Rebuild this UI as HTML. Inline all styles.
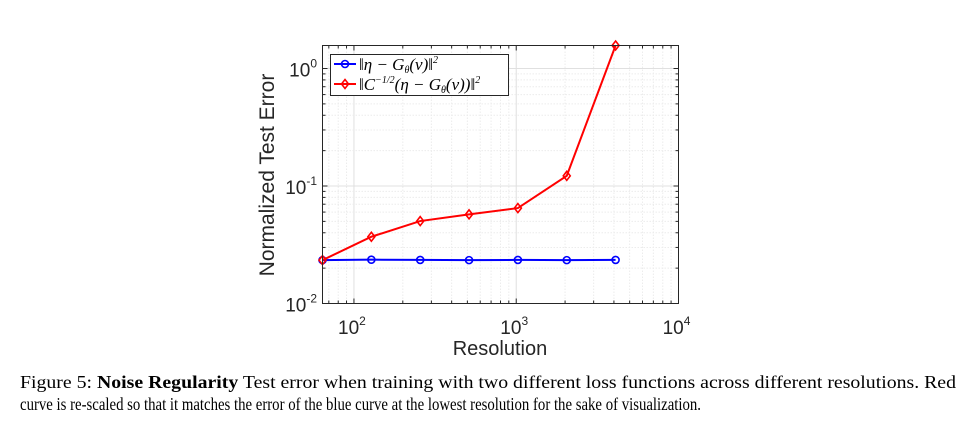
<!DOCTYPE html>
<html><head><meta charset="utf-8"><style>
html,body{margin:0;padding:0;background:#fff;width:976px;height:436px;overflow:hidden}
svg{display:block}
</style></head><body>
<svg id="chart" width="976" height="436" viewBox="0 0 976 436" xmlns="http://www.w3.org/2000/svg" font-family="'Liberation Sans', sans-serif">
<g id="grid"></g>
<g id="ticks"></g>
<g id="series"></g>
<rect x="322.5" y="45.5" width="356" height="258" fill="none" stroke="#262626" stroke-width="1"/>
<g>
<rect x="330.5" y="54.5" width="178" height="41" fill="#fff" stroke="#262626" stroke-width="1"/>
<g>
<line x1="334" y1="64" x2="356" y2="64" stroke="#0000ff" stroke-width="2"/>
<circle cx="345" cy="64" r="3.5" fill="none" stroke="#0000ff" stroke-width="1.6"/>
<text x="359" y="70" font-family="'Liberation Serif', serif" font-style="italic" font-size="17">‖η − G<tspan font-size="10" dy="3">θ</tspan><tspan dy="-3">(v)‖</tspan><tspan font-size="10" dy="-7">2</tspan></text>
</g>
<g>
<line x1="334" y1="84" x2="356" y2="84" stroke="#ff0000" stroke-width="2"/>
<path d="M345 79.5 L348.5 84 L345 88.5 L341.5 84 Z" fill="none" stroke="#ff0000" stroke-width="1.6"/>
<text x="359" y="90" font-family="'Liberation Serif', serif" font-style="italic" font-size="17">‖C<tspan font-size="10" dy="-7">−1/2</tspan><tspan dy="7">(η − G</tspan><tspan font-size="10" dy="3">θ</tspan><tspan dy="-3">(v))‖</tspan><tspan font-size="10" dy="-7">2</tspan></text>
</g>
</g>
<text x="500" y="355" text-anchor="middle" font-size="20" fill="#262626">Resolution</text>
<text transform="translate(274,175) rotate(-90)" text-anchor="middle" font-size="21" fill="#262626">Normalized Test Error</text>
<text x="20" y="388" font-family="'Liberation Serif', serif" font-size="18" textLength="936" lengthAdjust="spacingAndGlyphs">Figure 5: <tspan font-weight="bold">Noise Regularity</tspan>  Test error when training with two different loss functions across different resolutions. Red</text>
<text x="20" y="410" font-family="'Liberation Serif', serif" font-size="18" textLength="681" lengthAdjust="spacingAndGlyphs">curve is re-scaled so that it matches the error of the blue curve at the lowest resolution for the sake of visualization.</text>
<script>
const resolutions = [64, 128, 256, 512, 1024, 2048, 4096];
const blueErrors = [0.0234, 0.0236, 0.0235, 0.0234, 0.0235, 0.0234, 0.0235];
const redErrors = [0.0234, 0.037, 0.0503, 0.0574, 0.0649, 0.122, 1.57];
const xTickValues = [100, 1000, 10000];
const xTickExps = ["2", "3", "4"];
const yTickValues = [0.01, 0.1, 1];
const yTickExps = ["-2", "-1", "0"];
const NS = "http://www.w3.org/2000/svg";
const L = 322.5, R = 678.5, T = 45.5, B = 303.5;
const xMin = Math.log10(64), xMax = 4, yMin = -2, yMax = Math.log10(1.57);
function xs(v){ return L + (Math.log10(v) - xMin) / (xMax - xMin) * (R - L); }
function ys(v){ return B - (Math.log10(v) - yMin) / (yMax - yMin) * (B - T); }
function mk(tag, attrs, parent){ const e = document.createElementNS(NS, tag); for (const k in attrs) e.setAttribute(k, attrs[k]); parent.appendChild(e); return e; }
const grid = document.getElementById('grid'), ticks = document.getElementById('ticks'), series = document.getElementById('series');
for (let d = 1; d <= 3; d++) for (let m = 1; m <= 9; m++) {
  const v = m * Math.pow(10, d);
  if (v < 64 || v > 10000) continue;
  const x = xs(v);
  const g = mk('line', {x1:x, x2:x, y1:T, y2:B, stroke: m===1?'#e0e0e0':'#ececec', 'stroke-width':1, 'stroke-dasharray': m===1?'':'1.5,1.5'}, grid);
  
  
  mk('line', {x1:x, x2:x, y1:B, y2:B-(m===1?5:3), stroke:'#262626'}, ticks);
  mk('line', {x1:x, x2:x, y1:T, y2:T+(m===1?5:3), stroke:'#262626'}, ticks);
}
for (let d = -2; d <= 0; d++) for (let m = 1; m <= 9; m++) {
  const v = m * Math.pow(10, d);
  if (v > 1.57) continue;
  const y = ys(v);
  const g = mk('line', {x1:L, x2:R, y1:y, y2:y, stroke: m===1?'#e0e0e0':'#ececec', 'stroke-width':1, 'stroke-dasharray': m===1?'':'1.5,1.5'}, grid);
  
  
  mk('line', {x1:L, x2:L+(m===1?5:3), y1:y, y2:y, stroke:'#262626'}, ticks);
  mk('line', {x1:R, x2:R-(m===1?5:3), y1:y, y2:y, stroke:'#262626'}, ticks);
}
function tickLabel(x, y, anchor, exp, name){
  const t = mk('text', {x: x, y: y, 'text-anchor':anchor, 'font-size':19, fill:'#262626'}, ticks);
  
  
  const a = document.createElementNS(NS, 'tspan'); a.textContent = '10'; t.appendChild(a);
  const b = document.createElementNS(NS, 'tspan'); b.setAttribute('font-size', '12'); b.setAttribute('dy', '-9'); b.textContent = exp; t.appendChild(b);
}
xTickValues.forEach((v, i) => tickLabel(xs(v) - 2, 334, 'middle', xTickExps[i], 'x-tick-label'));
yTickValues.forEach((v, i) => tickLabel(317, ys(v) + 8, 'end', yTickExps[i], 'y-tick-label'));
function drawSeries(vals, color, marker, name){
  const pts = resolutions.map((r, i) => xs(r) + ',' + ys(vals[i])).join(' ');
  const pl = mk('polyline', {points: pts, fill:'none', stroke: color, 'stroke-width': 2}, series);
  
  
  resolutions.forEach((r, i) => {
    const x = xs(r), y = ys(vals[i]);
    let m;
    if (marker === 'circle') m = mk('circle', {cx:x, cy:y, r:3.5, fill:'none', stroke:color, 'stroke-width':1.6}, series);
    else m = mk('path', {d:`M${x} ${y-4.5} L${x+3.5} ${y} L${x} ${y+4.5} L${x-3.5} ${y} Z`, fill:'none', stroke:color, 'stroke-width':1.6}, series);
    
    
  });
}
drawSeries(blueErrors, '#0000ff', 'circle', 'blue-series');
drawSeries(redErrors, '#ff0000', 'diamond', 'red-series');
</script>
</svg>
</body></html>
